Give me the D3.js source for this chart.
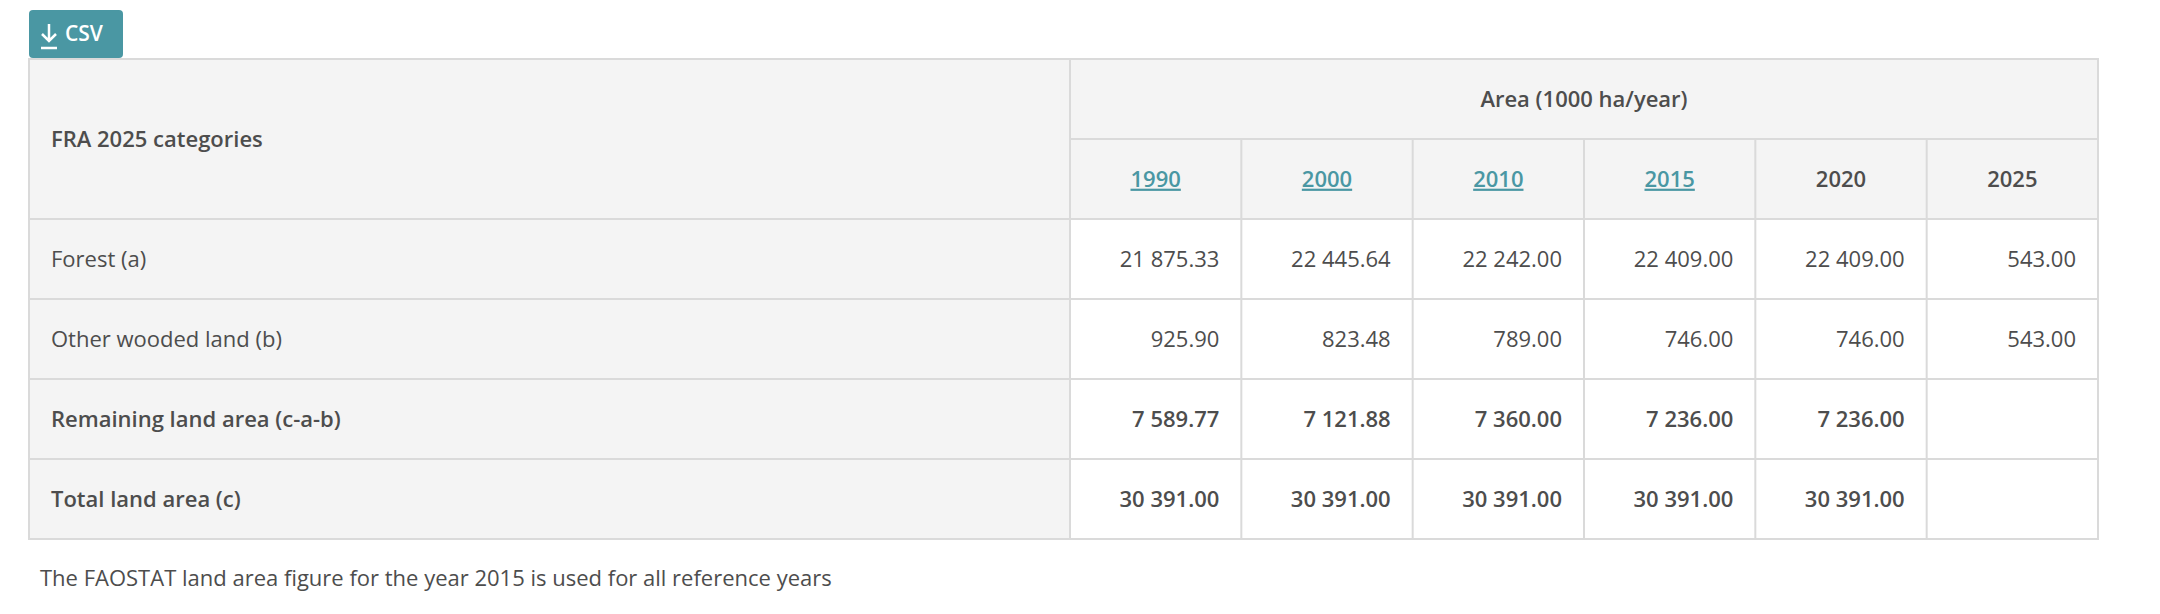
<!DOCTYPE html>
<html>
<head>
<meta charset="utf-8">
<script src="https://cdn.jsdelivr.net/npm/d3@7"></script>
<style>
  body { margin: 0; background: #fff; }
  text { font-family: 'Open Sans', sans-serif; }
</style>
</head>
<body>
<div id="main"></div>
<script>
const years = ['1990', '2000', '2010', '2015', '2020', '2025'];
const linkedYears = ['1990', '2000', '2010', '2015'];
const categories = ['Forest (a)', 'Other wooded land (b)', 'Remaining land area (c-a-b)', 'Total land area (c)'];
const boldRows = ['Remaining land area (c-a-b)', 'Total land area (c)'];
const forest = ['21 875.33', '22 445.64', '22 242.00', '22 409.00', '22 409.00', '543.00'];
const otherWooded = ['925.90', '823.48', '789.00', '746.00', '746.00', '543.00'];
const remaining = ['7 589.77', '7 121.88', '7 360.00', '7 236.00', '7 236.00', ''];
const total = ['30 391.00', '30 391.00', '30 391.00', '30 391.00', '30 391.00', ''];
const rowValues = [forest, otherWooded, remaining, total];
const footnote = 'The FAOSTAT land area figure for the year 2015 is used for all reference years';

const width = 2160, height = 614;
const tLeft = 29, tRight = 2098, split = 1070, tTop = 59, rowH = 80;
const border = '#dadada', textColor = '#4d4d4d', teal = '#4a97a3', grey = '#f4f4f4';
const fs = 22;

const svg = d3.select('#main').append('svg').attr('width', width).attr('height', height);

const xScale = d3.scaleBand().domain(years).range([split, tRight]);
const yScale = d3.scaleBand().domain(['h1', 'h2', ...categories]).range([tTop, tTop + rowH * 6]);

// header background
svg.append('rect')
    .attr('x', tLeft).attr('y', tTop)
    .attr('width', tRight - tLeft).attr('height', rowH * 2)
    .attr('fill', grey);

// body cells
const rows = svg.append('g').selectAll('g')
    .data(categories.map((c, i) => ({ name: c, values: rowValues[i] })))
    .enter().append('g');

rows.append('rect')
    .attr('x', tLeft).attr('y', d => yScale(d.name))
    .attr('width', split - tLeft).attr('height', yScale.bandwidth())
    .attr('fill', grey);

rows.append('text')
    .attr('x', tLeft + 22)
    .attr('y', d => yScale(d.name) + yScale.bandwidth() / 2)
    .attr('dy', '0.35em')
    .style('font-size', fs + 'px')
    .style('font-weight', d => boldRows.includes(d.name) ? 600 : 400)
    .attr('fill', textColor)
    .text(d => d.name);

rows.selectAll('.val')
    .data(d => d.values.map((v, j) => ({ v, year: years[j], name: d.name })))
    .enter().append('text')
    .attr('class', 'val')
    .attr('x', d => xScale(d.year) + xScale.bandwidth() - 22)
    .attr('y', d => yScale(d.name) + yScale.bandwidth() / 2)
    .attr('dy', '0.35em')
    .attr('text-anchor', 'end')
    .style('font-size', fs + 'px')
    .style('font-weight', d => boldRows.includes(d.name) ? 600 : 400)
    .attr('fill', textColor)
    .text(d => d.v);

// header texts
svg.append('text')
    .attr('x', tLeft + 22)
    .attr('y', tTop + rowH)
    .attr('dy', '0.35em')
    .style('font-size', fs + 'px').style('font-weight', 600)
    .attr('fill', textColor)
    .text('FRA 2025 categories');

svg.append('text')
    .attr('x', (split + tRight) / 2)
    .attr('y', yScale('h1') + rowH / 2)
    .attr('dy', '0.35em')
    .attr('text-anchor', 'middle')
    .style('font-size', fs + 'px').style('font-weight', 600)
    .attr('fill', textColor)
    .text('Area (1000 ha/year)');

svg.append('g').selectAll('text')
    .data(years)
    .enter().append('text')
    .attr('x', d => xScale(d) + xScale.bandwidth() / 2)
    .attr('y', yScale('h2') + rowH / 2)
    .attr('dy', '0.35em')
    .attr('text-anchor', 'middle')
    .style('font-size', fs + 'px').style('font-weight', 600)
    .style('text-decoration', d => linkedYears.includes(d) ? 'underline' : 'none')
    .attr('fill', d => linkedYears.includes(d) ? teal : textColor)
    .text(d => d);

// grid lines
const grid = svg.append('g').attr('stroke', border).attr('stroke-width', 2);
grid.selectAll('.h')
    .data(['h2', ...categories])
    .enter().append('line')
    .attr('x1', d => d === 'h2' ? split : tLeft).attr('x2', tRight)
    .attr('y1', d => yScale(d)).attr('y2', d => yScale(d));
grid.selectAll('.v')
    .data(years.slice(1))
    .enter().append('line')
    .attr('x1', d => xScale(d)).attr('x2', d => xScale(d))
    .attr('y1', yScale('h2')).attr('y2', tTop + rowH * 6);
grid.append('line').attr('x1', split).attr('x2', split).attr('y1', tTop).attr('y2', tTop + rowH * 6);
grid.append('rect')
    .attr('x', tLeft).attr('y', tTop)
    .attr('width', tRight - tLeft).attr('height', rowH * 6)
    .attr('fill', 'none');

// csv button
const btn = svg.append('g').attr('transform', 'translate(29,10)');
btn.append('rect').attr('width', 94).attr('height', 48).attr('rx', 4).attr('fill', teal);
btn.append('path')
    .attr('d', 'M20 14 V31 M13 24 L20 31 L27 24 M12 38 H28')
    .attr('stroke', '#fff').attr('stroke-width', 2.5).attr('fill', 'none');
btn.append('text')
    .attr('x', 36).attr('y', 24).attr('dy', '0.35em')
    .style('font-size', '21px').style('font-weight', 600)
    .attr('fill', '#fff')
    .text('CSV');

svg.append('text')
    .attr('x', 40).attr('y', 578).attr('dy', '0.35em')
    .style('font-size', fs + 'px')
    .attr('fill', textColor)
    .text(footnote);
</script>
</body>
</html>
